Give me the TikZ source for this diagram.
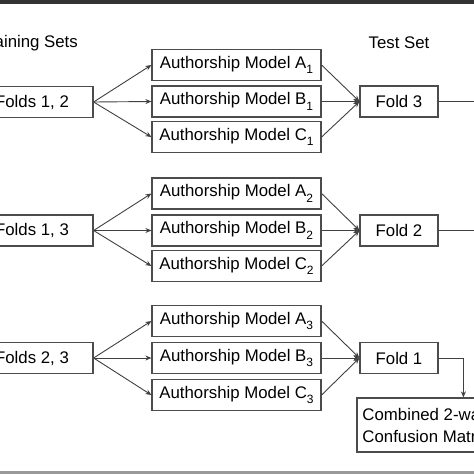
\documentclass[tikz,border=0pt]{standalone}
\usepackage{fontspec}
\setmainfont{Liberation Sans}
\usetikzlibrary{arrows.meta}

\newcommand\ix[1]{\raisebox{-.6ex}{\fontsize{12}{12}\selectfont #1}}

\begin{document}
\begin{tikzpicture}[x=1pt,y=-1pt,inner sep=0pt,
    font=\fontsize{16.8}{22}\selectfont,
    box/.style={draw=black!70,line width=1.2pt,fill=white,minimum height=31pt},
    fbox/.style={box,minimum width=122pt},
    mbox/.style={box,minimum width=169pt},
    tbox/.style={box,minimum width=78pt},
    arr/.style={-{Stealth[length=6pt,width=5pt]},line width=.9pt,draw=black!75}]
  \useasboundingbox (0,0) rectangle (474,474);
  \clip (0,0) rectangle (474,474);
  \fill[black!80] (0,0) rectangle (474,3.5);
  \fill[black!40] (0,471) rectangle (474,474);

  \node (ts) [anchor=east] at (78,43) {Training Sets};
  \node (tt) at (399,43) {Test Set};

  \node (f12) [fbox] at (32,102) {Folds 1, 2};
  \node (ma1) [mbox] at (236.5,65) {Authorship Model A\ix{1}};
  \node (mb1) [mbox] at (236.5,101.5) {Authorship Model B\ix{1}};
  \node (mc1) [mbox] at (236.5,137) {Authorship Model C\ix{1}};
  \node (t3) [tbox] at (399,101.5) {Fold 3};

  \node (f13) [fbox] at (32,230.5) {Folds 1, 3};
  \node (ma2) [mbox] at (236.5,193.5) {Authorship Model A\ix{2}};
  \node (mb2) [mbox] at (236.5,230.5) {Authorship Model B\ix{2}};
  \node (mc2) [mbox] at (236.5,266) {Authorship Model C\ix{2}};
  \node (t2) [tbox] at (399,230.5) {Fold 2};

  \node (f23) [fbox] at (32,358) {Folds 2, 3};
  \node (ma3) [mbox] at (236.5,321) {Authorship Model A\ix{3}};
  \node (mb3) [mbox] at (236.5,358) {Authorship Model B\ix{3}};
  \node (mc3) [mbox] at (236.5,395) {Authorship Model C\ix{3}};
  \node (t1) [tbox] at (399,358) {Fold 1};

  \node (cm) [box,minimum width=137pt,minimum height=54pt,align=center]
    at (425.5,425) {Combined 2-way\\Confusion Matrix};

  \draw[arr] (f12.east) -- (ma1.west);
  \draw[arr] (f12.east) -- (mb1.west);
  \draw[arr] (f12.east) -- (mc1.west);
  \draw[arr] (ma1.east) -- (t3.west);
  \draw[arr] (mb1.east) -- (t3.west);
  \draw[arr] (mc1.east) -- (t3.west);

  \draw[arr] (f13.east) -- (ma2.west);
  \draw[arr] (f13.east) -- (mb2.west);
  \draw[arr] (f13.east) -- (mc2.west);
  \draw[arr] (ma2.east) -- (t2.west);
  \draw[arr] (mb2.east) -- (t2.west);
  \draw[arr] (mc2.east) -- (t2.west);

  \draw[arr] (f23.east) -- (ma3.west);
  \draw[arr] (f23.east) -- (mb3.west);
  \draw[arr] (f23.east) -- (mc3.west);
  \draw[arr] (ma3.east) -- (t1.west);
  \draw[arr] (mb3.east) -- (t1.west);
  \draw[arr] (mc3.east) -- (t1.west);

  % results run off to the right
  \coordinate (o3) at (480,101.5);
  \coordinate (o2) at (480,230.5);
  \draw[line width=.9pt,black!75] (t3.east) -- (o3);
  \draw[line width=.9pt,black!75] (t2.east) -- (o2);
  \draw[arr] (t1.east) -| ([xshift=107pt]cm.north west);
\end{tikzpicture}
\end{document}
